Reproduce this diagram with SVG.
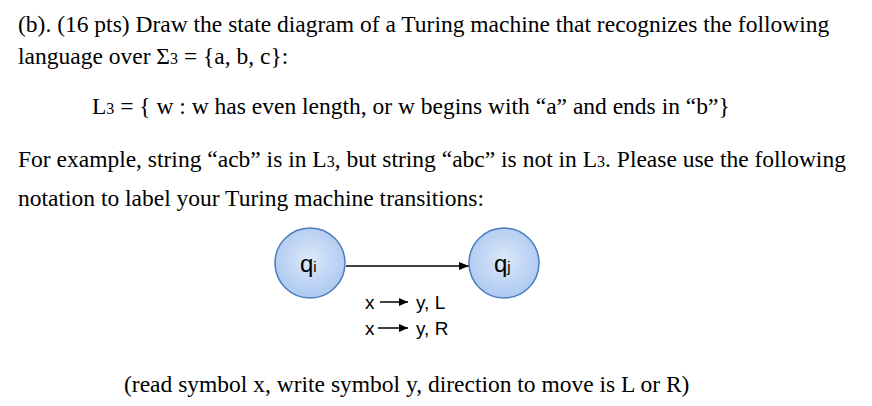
<svg xmlns="http://www.w3.org/2000/svg" width="872" height="406" viewBox="0 0 872 406">
<style>
.t{font-family:"Liberation Serif",serif;font-size:23.5px;fill:#000}
.s{font-family:"Liberation Sans",Arial,sans-serif;font-size:19px;fill:#000}
.q{font-family:"Liberation Sans",Arial,sans-serif;font-size:24px;fill:#000}
.n{fill:url(#g);stroke:#4a7ebb;stroke-width:1.5}
</style>
<defs>
<radialGradient id="g" cx="50%" cy="45%" r="60%"><stop offset="0" stop-color="#dce8fa"/><stop offset="1" stop-color="#a9c6f0"/></radialGradient>
<marker id="a" markerWidth="10" markerHeight="8" refX="10" refY="4" orient="auto" markerUnits="userSpaceOnUse"><path d="M0,0L10,4L0,8z" fill="#000"/></marker>
<marker id="b" markerWidth="9" markerHeight="8" refX="9" refY="4" orient="auto" markerUnits="userSpaceOnUse"><path d="M0,0L9,4L0,8z" fill="#000"/></marker>
</defs>
<rect width="872" height="406" fill="#fff"/>
<text class="t" x="18" y="32">(b). (16 pts) Draw the state diagram of a Turing machine that recognizes the following</text>
<text class="t" x="18" y="64">language over Σ<tspan style="font-size:16px">3</tspan> = {a, b, c}:</text>
<text class="t" x="92" y="114">L<tspan style="font-size:16px">3</tspan> = { w : w has even length, or w begins with “a” and ends in “b”}</text>
<text class="t" x="18" y="167">For example, string “acb” is in L<tspan style="font-size:16px">3</tspan>, but string “abc” is not in L<tspan style="font-size:16px">3</tspan>. Please use the following</text>
<text class="t" x="18" y="206">notation to label your Turing machine transitions:</text>
<g id="connectors">
<line x1="346" y1="266" x2="469" y2="266" stroke="#000" stroke-width="1.3" marker-end="url(#a)"/>
<line x1="380" y1="302" x2="408" y2="302" stroke="#000" stroke-width="1.5" marker-end="url(#b)"/>
<line x1="378" y1="328" x2="408" y2="328" stroke="#000" stroke-width="1.5" marker-end="url(#b)"/>
</g>
<g id="qi"><circle class="n" cx="310" cy="263" r="35"/><text class="q" x="300" y="272">q<tspan style="font-size:15px">i</tspan></text></g>
<g id="qj"><circle class="n" cx="504" cy="263" r="35"/><text class="q" x="494" y="272">q<tspan style="font-size:15px">j</tspan></text></g>
<text class="s" x="365" y="309">x</text><text class="s" x="416" y="309">y, L</text>
<text class="s" x="365" y="335">x</text><text class="s" x="416" y="335">y, R</text>
<text class="t" x="124" y="392">(read symbol x, write symbol y, direction to move is L or R)</text>
</svg>
